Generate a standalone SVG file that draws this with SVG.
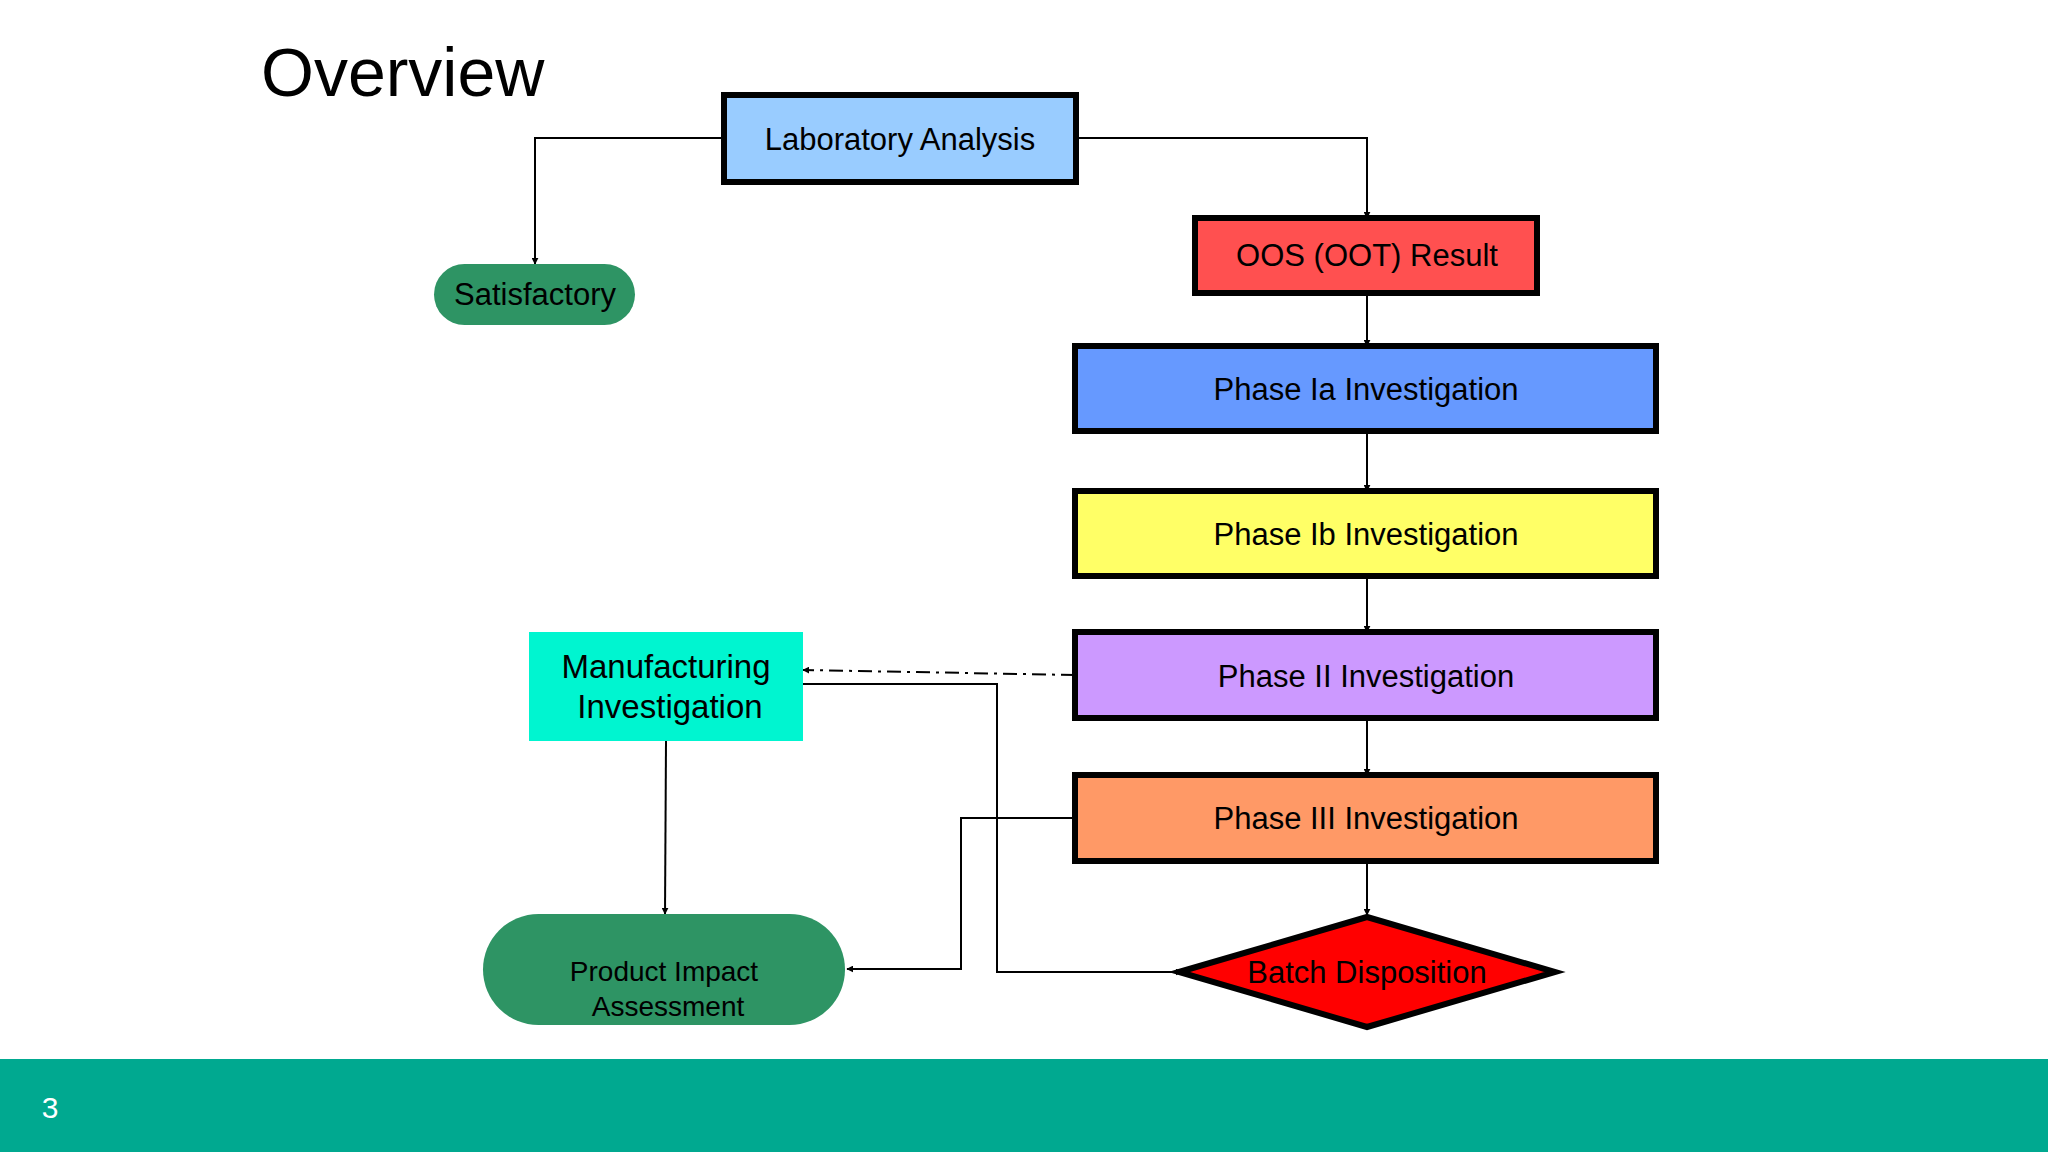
<svg xmlns="http://www.w3.org/2000/svg" width="2048" height="1152" viewBox="0 0 2048 1152">
<defs>
<marker id="a" viewBox="0 0 10 10" refX="9" refY="5" markerWidth="7" markerHeight="7" orient="auto" markerUnits="userSpaceOnUse"><path d="M0,0L10,5L0,10z" fill="#000"/></marker>
<style>
text{font-family:"Liberation Sans",Arial,sans-serif;fill:#000;text-anchor:middle}
.b{stroke:#000;stroke-width:6}
.c{fill:none;stroke:#000;stroke-width:2;marker-end:url(#a)}
.l{font-size:31px}
</style>
</defs>
<rect width="2048" height="1152" fill="#fff"/>
<text x="261" y="96" style="font-size:68px;text-anchor:start">Overview</text>
<g id="connectors">
<path class="c" d="M724,138H535V264"/>
<path class="c" d="M1076,138H1367V218"/>
<path class="c" d="M1367,293V346"/>
<path class="c" d="M1367,431V491"/>
<path class="c" d="M1367,576V632"/>
<path class="c" d="M1367,718V775"/>
<path class="c" d="M1367,861V915"/>
<path class="c" d="M1075,675L803,670" stroke-dasharray="14,6,3,6"/>
<path class="c" d="M803,684H997V972H1182"/>
<path class="c" d="M1075,818H961V969H847"/>
<path class="c" d="M666,741L665,914"/>
</g>
<g id="lab"><rect class="b" x="724" y="95" width="352" height="87" fill="#99ccff"/><text class="l" x="900" y="150">Laboratory Analysis</text></g>
<g id="sat"><rect x="434" y="264" width="201" height="61" rx="30.5" fill="#2e9464"/><text class="l" x="535" y="305">Satisfactory</text></g>
<g id="oos"><rect class="b" x="1195" y="218" width="342" height="75" fill="#ff5050"/><text class="l" x="1367" y="266">OOS (OOT) Result</text></g>
<g id="p1a"><rect class="b" x="1075" y="346" width="581" height="85" fill="#6699ff"/><text class="l" x="1366" y="400">Phase Ia Investigation</text></g>
<g id="p1b"><rect class="b" x="1075" y="491" width="581" height="85" fill="#ffff66"/><text class="l" x="1366" y="545">Phase Ib Investigation</text></g>
<g id="p2"><rect class="b" x="1075" y="632" width="581" height="86" fill="#cc99ff"/><text class="l" x="1366" y="687">Phase II Investigation</text></g>
<g id="p3"><rect class="b" x="1075" y="775" width="581" height="86" fill="#ff9966"/><text class="l" x="1366" y="829">Phase III Investigation</text></g>
<g id="batch"><polygon class="b" points="1179,972 1367,917 1555,972 1367,1027" fill="#ff0000"/><text class="l" x="1367" y="983">Batch Disposition</text></g>
<g id="mfg"><rect x="529" y="632" width="274" height="109" fill="#00f5d0"/><text x="666" y="678" style="font-size:33px">Manufacturing</text><text x="670" y="718" style="font-size:33px">Investigation</text></g>
<g id="pia"><rect x="483" y="914" width="362" height="111" rx="55.5" fill="#2e9464"/><text x="664" y="981" style="font-size:28px">Product Impact</text><text x="668" y="1016" style="font-size:28px">Assessment</text></g>
<rect x="0" y="1059" width="2048" height="93" fill="#00a990"/>
<text x="50" y="1118" style="font-size:30px;fill:#fff">3</text>
</svg>
